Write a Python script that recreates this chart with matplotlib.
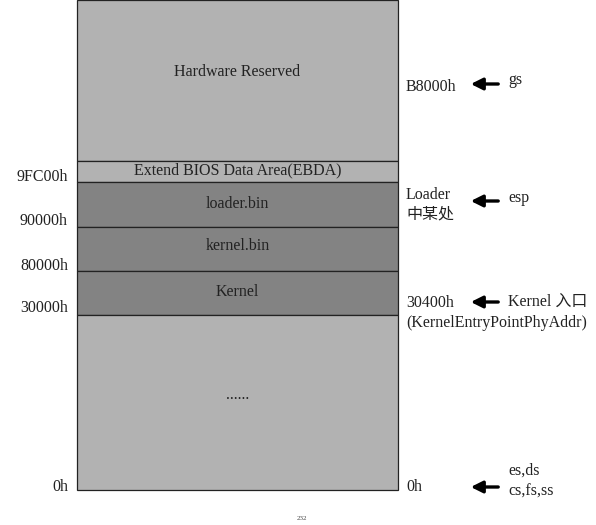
import matplotlib
matplotlib.use("Agg")
import matplotlib.pyplot as plt

# memory regions, top to bottom (pixel rows in the diagram)
region_names = ["Hardware Reserved", "Extend BIOS Data Area(EBDA)", "loader.bin",
                "kernel.bin", "Kernel", "......"]
region_top = [0, 161, 182, 227, 271, 315]
region_bottom = [161, 182, 227, 271, 315, 490]
region_dark = [False, False, True, True, True, False]
region_text_y = [72, 170, 204, 246, 292, 395]

left_labels = ["9FC00h", "90000h", "80000h", "30000h", "0h"]
left_label_y = [177, 221, 266, 308, 487]

right_labels = ["B8000h", "Loader", "中某处", "30400h", "(KernelEntryPointPhyAddr)", "0h"]
right_label_y = [87, 195, 214, 303, 323, 487]
arrow_text = ["gs", "esp", "Kernel 入口", "es,ds", "cs,fs,ss"]
arrow_text_y = [80, 198, 302, 471, 492]
arrow_y = [84, 201, 302, 487]

FONT = ["Liberation Serif", "Noto Sans CJK SC", "DejaVu Sans"]
LIGHT = "#b2b2b2"
DARK = "#838383"
FS = 11.5

fig = plt.figure(figsize=(5.96, 5.25), dpi=100)
ax = fig.add_axes([0, 0, 1, 1])
ax.set_xlim(0, 596)
ax.set_ylim(525, 0)
ax.axis("off")

x0, x1 = 77, 398
for name, t, b, dark, ty in zip(region_names, region_top, region_bottom, region_dark, region_text_y):
    ax.add_patch(plt.Rectangle((x0, t), x1 - x0, b - t, facecolor=DARK if dark else LIGHT,
                               edgecolor="#222222", linewidth=0.9))
    ax.text((x0 + x1) / 2, ty, name, ha="center", va="center", fontsize=FS,
            family=FONT, color="#222222")

for lab, y in zip(left_labels, left_label_y):
    ax.text(68, y, lab, ha="right", va="center", fontsize=FS, family=FONT, color="#222222")

for lab, y in zip(right_labels, right_label_y):
    ax.text(406, y, lab, ha="left", va="center", fontsize=FS, family=FONT, color="#222222")

for y in arrow_y:
    ax.annotate("", xy=(468, y), xytext=(501, y),
                arrowprops=dict(arrowstyle="-|>,head_length=0.7,head_width=0.35",
                                color="black", lw=2.4))
for lab, y in zip(arrow_text, arrow_text_y):
    ax.text(508, y, lab, ha="left", va="center", fontsize=FS, family=FONT, color="#222222")

ax.text(302, 519, "232", ha="center", va="center", fontsize=5, family=FONT, color="#444444")

fig.savefig("out.png", dpi=100)
